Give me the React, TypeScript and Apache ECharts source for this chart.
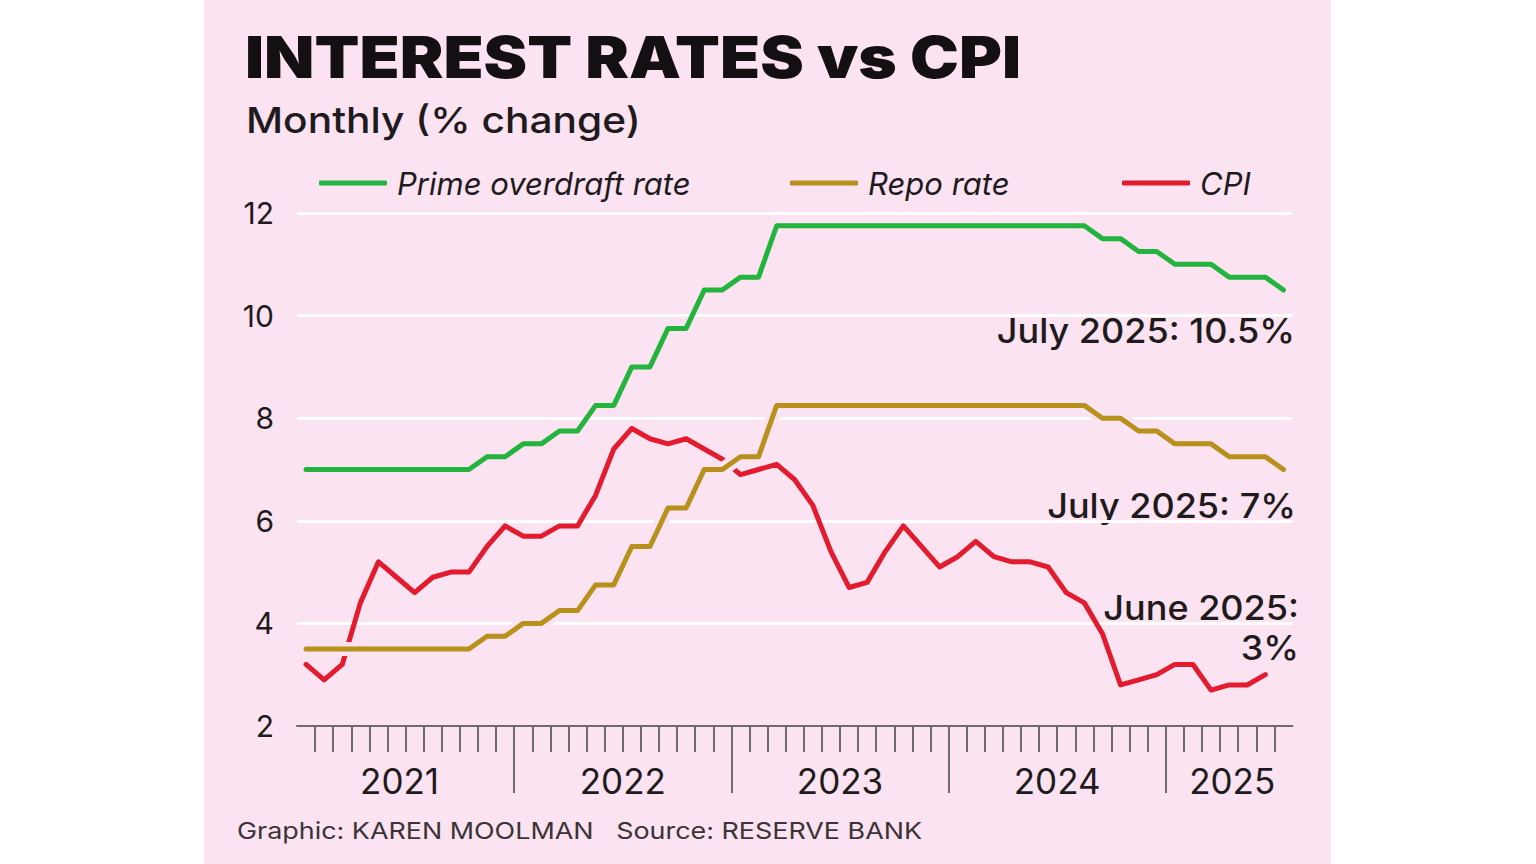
import React, { useEffect, useRef } from "react";
import * as echarts from "echarts";

// ---------- data ----------
const years = ["2021", "2022", "2023", "2024", "2025"];
const monthNames = ["January", "February", "March", "April", "May", "June", "July", "August", "September", "October", "November", "December"];
const monthsIn2025 = 7; // Jan..Jul 2025

const months: string[] = [];
years.forEach((y, yi) => {
  const n = yi === years.length - 1 ? monthsIn2025 : 12;
  for (let m = 0; m < n; m++) months.push(`${monthNames[m]} ${y}`);
});
// month boundaries (tick positions between months)
const boundaries: string[] = [];
for (let k = 0; k <= months.length; k++) boundaries.push(String(k));

const primeRate = [
  7, 7, 7, 7, 7, 7, 7, 7, 7, 7, 7.25, 7.25,
  7.5, 7.5, 7.75, 7.75, 8.25, 8.25, 9, 9, 9.75, 9.75, 10.5, 10.5,
  10.75, 10.75, 11.75, 11.75, 11.75, 11.75, 11.75, 11.75, 11.75, 11.75, 11.75, 11.75,
  11.75, 11.75, 11.75, 11.75, 11.75, 11.75, 11.75, 11.75, 11.5, 11.5, 11.25, 11.25,
  11, 11, 11, 10.75, 10.75, 10.75, 10.5,
];
const repoRate = [
  3.5, 3.5, 3.5, 3.5, 3.5, 3.5, 3.5, 3.5, 3.5, 3.5, 3.75, 3.75,
  4, 4, 4.25, 4.25, 4.75, 4.75, 5.5, 5.5, 6.25, 6.25, 7, 7,
  7.25, 7.25, 8.25, 8.25, 8.25, 8.25, 8.25, 8.25, 8.25, 8.25, 8.25, 8.25,
  8.25, 8.25, 8.25, 8.25, 8.25, 8.25, 8.25, 8.25, 8, 8, 7.75, 7.75,
  7.5, 7.5, 7.5, 7.25, 7.25, 7.25, 7,
];
const cpi = [
  3.2, 2.9, 3.2, 4.4, 5.2, 4.9, 4.6, 4.9, 5.0, 5.0, 5.5, 5.9,
  5.7, 5.7, 5.9, 5.9, 6.5, 7.4, 7.8, 7.6, 7.5, 7.6, 7.4, 7.2,
  6.9, 7.0, 7.1, 6.8, 6.3, 5.4, 4.7, 4.8, 5.4, 5.9, 5.5, 5.1,
  5.3, 5.6, 5.3, 5.2, 5.2, 5.1, 4.6, 4.4, 3.8, 2.8, 2.9, 3.0,
  3.2, 3.2, 2.7, 2.8, 2.8, 3.0,
];
const yMin = 2;
const yMax = 12;
const yStep = 2;
// year label placed at this month-boundary index
const yearLabelBoundary: Record<number, string> = { 6: "2021", 18: "2022", 30: "2023", 42: "2024", 52: "2025" };

const seriesNames = ["Prime overdraft rate", "Repo rate", "CPI"];
const titleText = "INTEREST RATES vs CPI";
const subtitleText = "Monthly (% change)";
const footerText = "Graphic: KAREN MOOLMAN   Source: RESERVE BANK";

// ---------- styles ----------
const FONT = "Inter, 'Noto Sans', sans-serif";
const PINK = "#fbe3f1";
const GREEN = "#22b43c";
const GOLD = "#b8901c";
const RED = "#e21b2f";
const INK = "#1f1b1d";
const AXIS = "#6f6a6d";

export default function App() {
  const ref = useRef<HTMLDivElement>(null);

  useEffect(() => {
    if (!ref.current) return;
    const chart = echarts.init(ref.current, undefined, { renderer: "svg" });

    const lastPrime = primeRate[primeRate.length - 1];
    const lastRepo = repoRate[repoRate.length - 1];
    const lastCpi = cpi[cpi.length - 1];
    const rateMonth = months[primeRate.length - 1];
    const cpiMonth = months[cpi.length - 1];

    const legendBase = (name: string, left: number) => ({
      data: [name],
      left,
      top: 162,
      icon: "roundRect",
      itemWidth: 68,
      itemHeight: 5,
      selectedMode: false,
      textStyle: {
        fontFamily: FONT,
        fontSize: 31,
        fontStyle: "italic",
        color: INK,
        lineHeight: 32,
        padding: [0, 0, 0, 5],
      },
    });

    const lineSeries = (name: string, data: number[], color: string, width: number) => ({
      name,
      type: "line",
      data,
      xAxisIndex: 0,
      yAxisIndex: 0,
      symbol: "none",
      silent: true,
      lineStyle: { color, width, join: "round", cap: "round" },
      itemStyle: { color },
    });

    const noteStyle = (text: string) => ({
      text,
      align: "right",
      verticalAlign: "middle",
      lineHeight: 40,
      fontFamily: FONT,
      fontWeight: 500,
      fontSize: 34,
      fill: INK,
    });

    const option: any = {
      animation: false,
      backgroundColor: "transparent",
      textStyle: { fontFamily: FONT },
      grid: { left: 297, right: 243.5, top: 213, bottom: 138, containLabel: false },
      legend: [
        legendBase(seriesNames[0], 314),
        legendBase(seriesNames[1], 785),
        legendBase(seriesNames[2], 1117),
      ],
      xAxis: [
        {
          type: "category",
          data: months,
          boundaryGap: true,
          axisLine: { show: true, lineStyle: { color: AXIS, width: 2 } },
          axisTick: { show: false },
          axisLabel: { show: false },
          splitLine: { show: false },
        },
        {
          type: "category",
          data: boundaries,
          boundaryGap: false,
          position: "bottom",
          axisLine: { show: false },
          axisTick: {
            show: true,
            length: 26,
            interval: (k: number) => k > 0 && k < months.length && k % 12 !== 0,
            lineStyle: { color: AXIS, width: 2 },
          },
          axisLabel: { show: false },
          splitLine: { show: false },
        },
        {
          type: "category",
          data: boundaries,
          boundaryGap: false,
          position: "bottom",
          axisLine: { show: false },
          axisTick: {
            show: true,
            length: 67,
            interval: (k: number) => k > 0 && k < months.length && k % 12 === 0,
            lineStyle: { color: AXIS, width: 2 },
          },
          axisLabel: {
            show: true,
            interval: 0,
            margin: 37,
            fontFamily: FONT,
            fontSize: 35,
            color: INK,
            formatter: (_v: string, k: number) => {
              const y = yearLabelBoundary[k];
              if (!y) return "";
              return k === 6 || k === 52 ? `{l|${y}}` : y;
            },
            rich: {
              l: { fontFamily: FONT, fontSize: 35, color: INK, padding: [0, 12, 0, 0] },
            },
          },
          splitLine: { show: false },
        },
      ],
      yAxis: {
        type: "value",
        min: yMin,
        max: yMax,
        interval: yStep,
        axisLine: { show: false },
        axisTick: { show: false },
        axisLabel: { fontFamily: FONT, fontSize: 30, color: INK, margin: 23 },
        splitLine: {
          show: true,
          lineStyle: { color: ["rgba(0,0,0,0)", "#ffffff", "#ffffff", "#ffffff", "#ffffff", "#ffffff"], width: 3 },
        },
      },
      series: [
        lineSeries(seriesNames[0], primeRate, GREEN, 5),
        lineSeries(seriesNames[2], cpi, RED, 5),
        lineSeries("repo-halo", repoRate, PINK, 14),
        lineSeries(seriesNames[1], repoRate, GOLD, 5),
      ],
      graphic: [
        {
          type: "text",
          x: 245,
          y: 57,
          scaleX: 1.13,
          style: {
            text: titleText,
            verticalAlign: "middle",
            fontFamily: FONT,
            fontWeight: 900,
            fontSize: 58,
            fill: "#140f12",
          },
        },
        {
          type: "text",
          x: 246,
          y: 120,
          scaleX: 1.13,
          style: {
            text: subtitleText,
            verticalAlign: "middle",
            fontFamily: FONT,
            fontWeight: 500,
            fontSize: 36,
            fill: INK,
          },
        },
        {
          type: "text",
          x: 1295,
          y: 330,
          scaleX: 1.06,
          style: noteStyle(`${rateMonth}: ${lastPrime}%`),
        },
        {
          type: "text",
          x: 1296,
          y: 505,
          scaleX: 1.06,
          style: noteStyle(`${rateMonth}: ${lastRepo}%`),
        },
        {
          type: "text",
          x: 1299,
          y: 627,
          scaleX: 1.06,
          style: noteStyle(`${cpiMonth}:\n${lastCpi}%`),
        },
        {
          type: "text",
          x: 237,
          y: 831,
          scaleX: 1.17,
          style: {
            text: footerText,
            verticalAlign: "middle",
            fontFamily: FONT,
            fontSize: 23,
            fill: "#3a3437",
          },
        },
      ],
    };

    chart.setOption(option);
    return () => chart.dispose();
  }, []);

  return (
    <div
      style={{
        position: "fixed",
        left: 0,
        top: 0,
        width: 1536,
        height: 864,
        background: `linear-gradient(to right, #ffffff 0px, #ffffff 204px, ${PINK} 204px, ${PINK} 1331px, #ffffff 1331px)`,
      }}
    >
      <div ref={ref} style={{ width: 1536, height: 864 }} />
    </div>
  );
}
